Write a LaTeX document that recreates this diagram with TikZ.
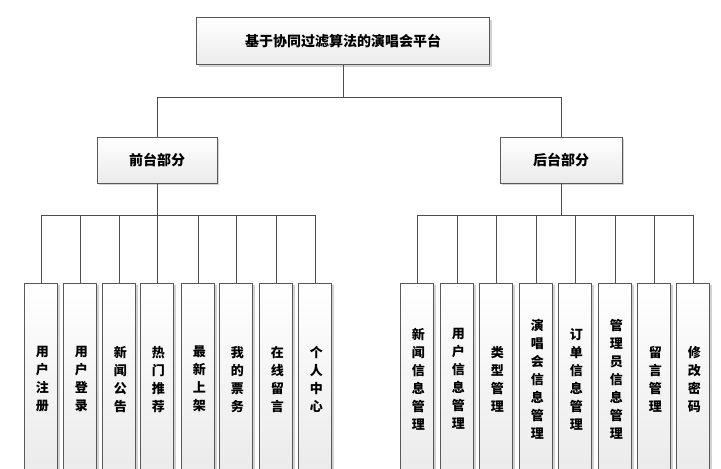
\documentclass[tikz,border=0pt]{standalone}
\usepackage{fontspec}
\setmainfont{Noto Sans CJK SC}
\XeTeXlinebreaklocale "zh"
\XeTeXlinebreakskip=0pt plus 1pt
\usetikzlibrary{shadows}
\begin{document}
\begin{tikzpicture}[x=1pt,y=-1pt,thick]
  \tikzstyle{box}=[rectangle,draw=black!65,thin,top color=white,bottom color=black!8,
    drop shadow={shadow xshift=2pt,shadow yshift=-2pt,fill=black!35},font=\bfseries\fontsize{14}{15}\selectfont]
  \tikzstyle{leaf}=[box,anchor=north,minimum width=33pt,minimum height=192pt,
    text width=1.05em,align=center,inner sep=0pt,font=\bfseries\fontsize{13}{18}\selectfont]
  \tikzstyle{link}=[draw=black!70,line width=0.8pt]
  \useasboundingbox (0,0) rectangle (721,469);
  \begin{scope}
  \clip (0,0) rectangle (721,469);
  \node(root) at (343,41) [box,minimum width=293pt,minimum height=47pt]{基于协同过滤算法的演唱会平台};
  \node(front) at (157,160) [box,minimum width=120pt,minimum height=46pt]{前台部分};
  \node(back) at (561,160) [box,minimum width=122pt,minimum height=46pt]{后台部分};
  \coordinate(top-bus) at (343,97);
  \coordinate(front-bus) at (157,215);
  \coordinate(back-bus) at (561,215);
  \draw[link](root.south)--(top-bus);
  \draw[link](top-bus)-|(front.north);
  \draw[link](top-bus)-|(back.north);
  \draw[link](front.south)--(front-bus);
  \draw[link](back.south)--(back-bus);
  % front leaves
  \foreach \i/\x/\t in {1/41/用户注册,2/80/用户登录,3/119/新闻公告,4/157/热门推荐,
      5/198/最新上架,6/236/我的票务,7/276/在线留言,8/315/个人中心}{
    \node(f\i) at (\x,283) [leaf]{\t};
    \draw[link](f\i.north)--(f\i.north |- front-bus);
  }
  \draw[link](f1.north |- front-bus)--(f8.north |- front-bus);
  % back leaves
  \foreach \i/\x/\t in {1/417/新闻信息管理,2/457/用户信息管理,3/496/类型管理,4/536/演唱会信息管理,
      5/575/订单信息管理,6/615/管理员信息管理,7/654/留言管理,8/693/修改密码}{
    \node(b\i) at (\x,283) [leaf]{\t};
    \draw[link](b\i.north)--(b\i.north |- back-bus);
  }
  \draw[link](b1.north |- back-bus)--(b8.north |- back-bus);
  \end{scope}
\end{tikzpicture}
\end{document}
